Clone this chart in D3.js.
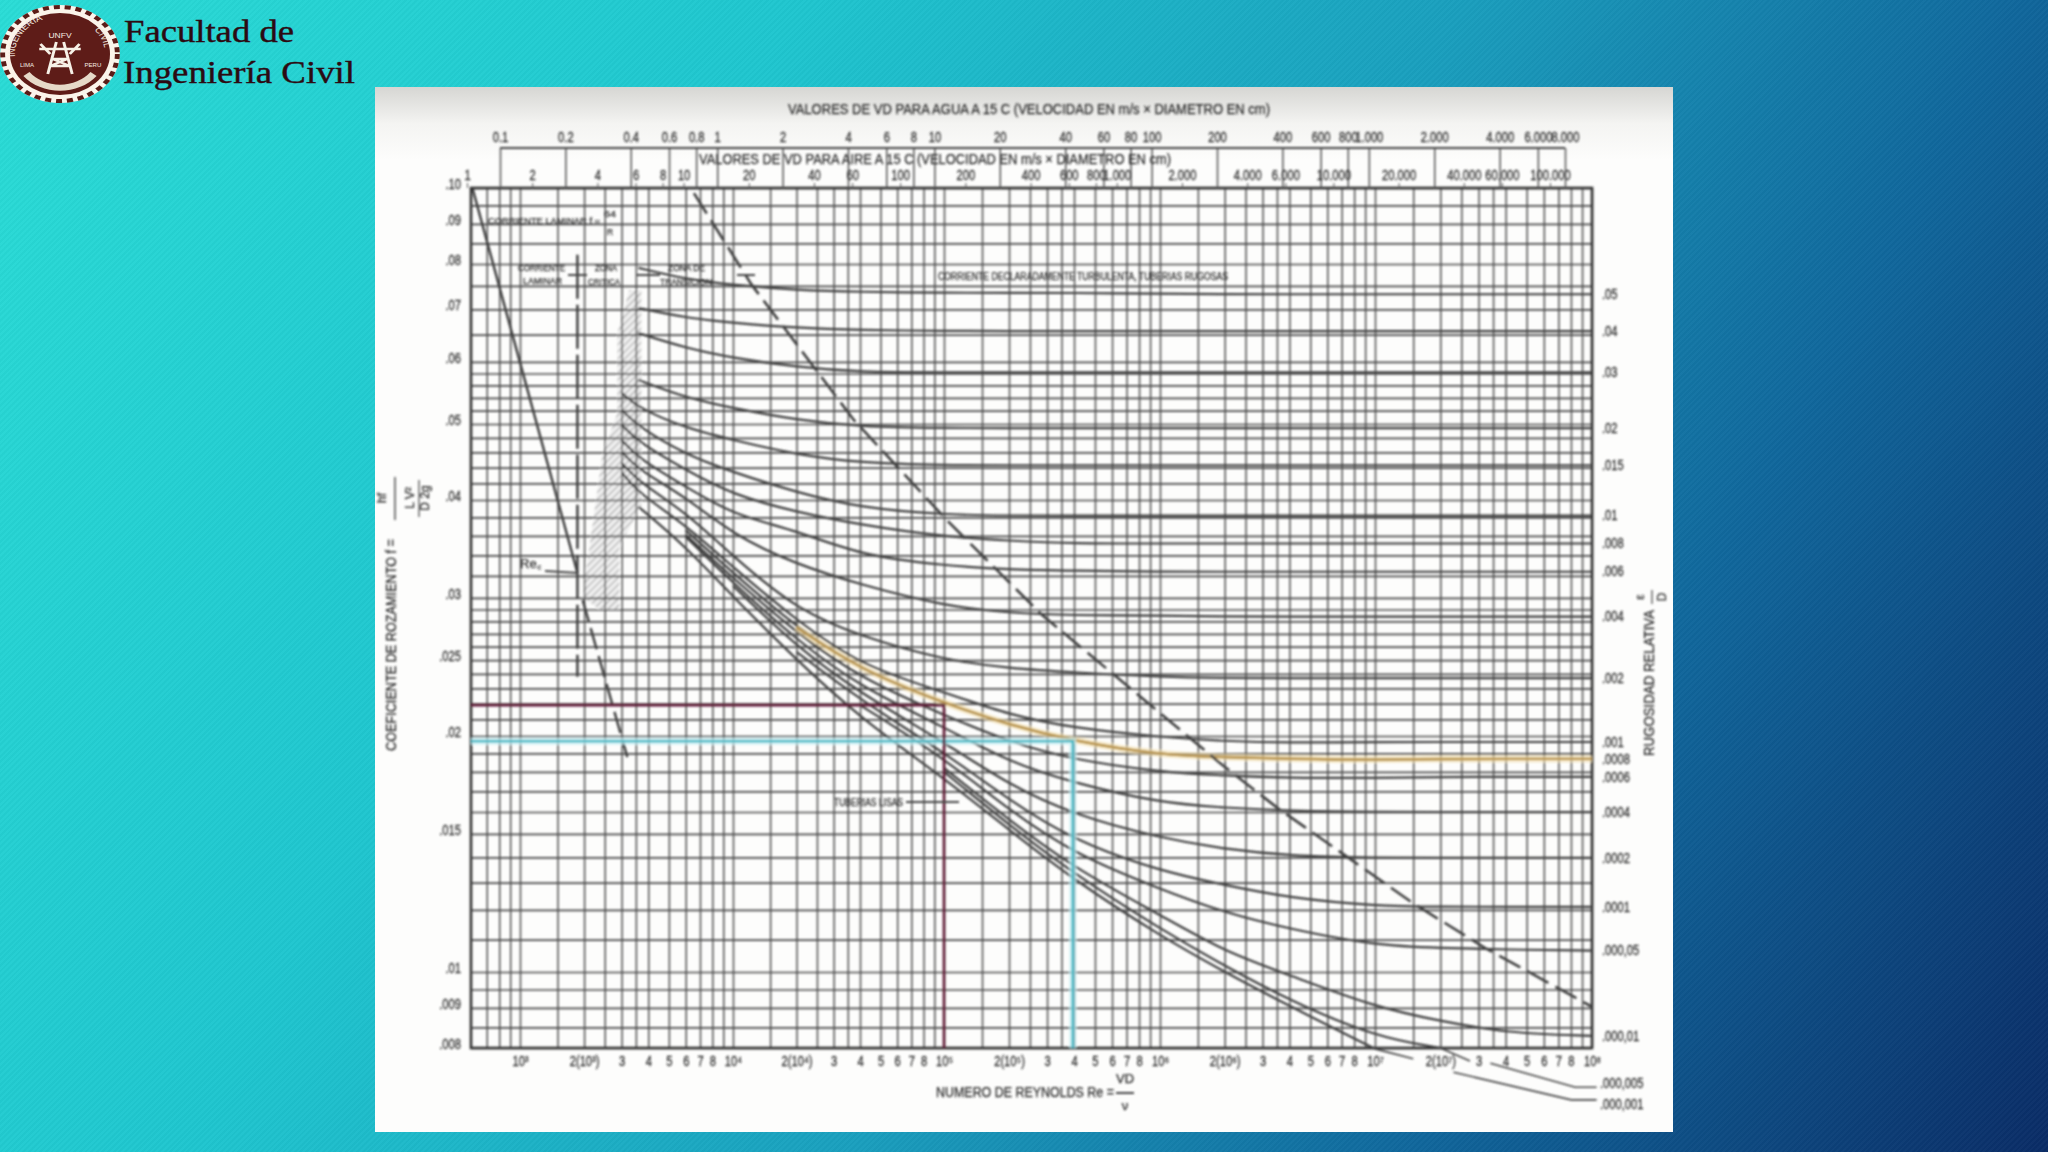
<!DOCTYPE html>
<html>
<head>
<meta charset="utf-8">
<script src="https://cdn.jsdelivr.net/npm/d3@7"></script>
<style>
  html, body { margin: 0; padding: 0; width: 2048px; height: 1152px; overflow: hidden; }
  body {
    background:
      repeating-linear-gradient(135deg, rgba(255,255,255,0.018) 0 2px, rgba(0,0,0,0.018) 2px 4px),
      linear-gradient(118deg, #2adcd6 0%, #1fc6cf 30%, #1a9fbe 55%, #10679c 76%, #0a2c66 100%);
  }
  svg { display: block; }
  text { font-family: "Liberation Sans", sans-serif; fill: #2a2a2a; stroke: #2a2a2a; stroke-width: 0.25px; }
  .axis path { display: none; }
  .axis text { font-size: 14px; fill: #2a2a2a; font-family: "Liberation Sans", sans-serif; }
</style>
</head>
<body>
<svg id="chart" width="2048" height="1152"></svg>
<script>
// ---- datos ----
const reMantissas = [1, 1.5, 2, 2.5, 3, 3.5, 4, 5, 6, 7, 8, 9];
const reDecades = [1e3, 1e4, 1e5, 1e6, 1e7];
const reLowTicks = [700, 800, 900];
const fGridValues = [
  .008, .0085, .009, .0095, .01, .011, .012, .013, .014, .015, .016, .017, .018, .019, .02,
  .021, .022, .023, .024, .025, .026, .027, .028, .029, .03, .032, .034, .036, .038, .04,
  .042, .044, .046, .048, .05, .052, .054, .056, .058, .06, .065, .07, .075, .08, .085, .09, .095, .1
];

const reTickValues = [1e3, 2e3, 3e3, 4e3, 5e3, 6e3, 7e3, 8e3, 1e4, 2e4, 3e4, 4e4, 5e4, 6e4, 7e4, 8e4,
  1e5, 2e5, 3e5, 4e5, 5e5, 6e5, 7e5, 8e5, 1e6, 2e6, 3e6, 4e6, 5e6, 6e6, 7e6, 8e6,
  1e7, 2e7, 3e7, 4e7, 5e7, 6e7, 7e7, 8e7, 1e8];
const reTickLabels = ['10³', '2(10³)', '3', '4', '5', '6', '7', '8', '10⁴', '2(10⁴)', '3', '4', '5', '6', '7', '8',
  '10⁵', '2(10⁵)', '3', '4', '5', '6', '7', '8', '10⁶', '2(10⁶)', '3', '4', '5', '6', '7', '8',
  '10⁷', '2(10⁷)', '3', '4', '5', '6', '7', '8', '10⁸'];
const fTickValues = [.1, .09, .08, .07, .06, .05, .04, .03, .025, .02, .015, .01, .009, .008];
const fTickLabels = ['.10', '.09', '.08', '.07', '.06', '.05', '.04', '.03', '.025', '.02', '.015', '.01', '.009', '.008'];

const waterTicks = [.1, .2, .4, .6, .8, 1, 2, 4, 6, 8, 10, 20, 40, 60, 80, 100, 200, 400, 600, 800, 1000, 2000, 4000, 6000, 8000];
const airTicks = [1, 2, 4, 6, 8, 10, 20, 40, 60, 100, 200, 400, 600, 800, 1000, 2000, 4000, 6000, 10000, 20000, 40000, 60000, 100000];

// curvas f(Re) por rugosidad relativa, sobre reGrid
const reGrid = [3e3, 3.6e3, 6e3, 1e4, 2e4, 4e4, 1e5, 2e5, 4e5, 1e6, 2e6, 4e6, 1e7, 2e7, 4e7, 1e8];
const c05 = [null, .0791, .0765, .0752, .0741, .0737, .0735, .0735, .0735, .0733, .0732, .0732, .0732, .0732, .0732, .0732];
const c04 = [null, .0703, .0683, .0673, .0663, .0659, .0657, .0657, .0657, .0657, .0657, .0657, .0657, .0657, .0657, .0657];
const c03 = [null, .0653, .0625, .0607, .0591, .0582, .0582, .0582, .0582, .0582, .0582, .0582, .0582, .0582, .0582, .0582];
const c02 = [null, .0569, .0540, .0524, .0506, .0496, .0494, .0494, .0494, .0494, .0494, .0494, .0494, .0494, .0494, .0494];
const c015 = [.0548, .0524, .0494, .0477, .0457, .0446, .0443, .0443, .0443, .0443, .0443, .0443, .0443, .0443, .0443, .0443];
const c01 = [.0521, .0496, .0457, .0434, .0409, .0391, .0383, .0382, .0382, .0382, .0382, .0382, .0382, .0382, .0382, .0382];
const c008 = [.0499, .0474, .0437, .0406, .0386, .0372, .0359, .0355, .0352, .0352, .0352, .0352, .0352, .0352, .0352, .0352];
const c006 = [.0477, .0452, .0416, .0383, .0366, .0340, .0330, .0326, .0325, .0324, .0324, .0324, .0324, .0324, .0324, .0324];
const c004 = [.0461, .0437, .0404, .0361, .0331, .0312, .0293, .0287, .0285, .0285, .0284, .0284, .0284, .0284, .0284, .0284];
const c002 = [.0446, .0422, .0386, .0339, .0290, .0268, .0250, .0244, .0241, .0238, .0237, .0237, .0237, .0237, .0237, .0237];
const c001 = [.0434, .0408, .0372, .0328, .0281, .0246, .02276, .02127, .02047, .01994, .0197, .0196, .01965, .01965, .01965, .01965];
const c0008 = [null, null, .0366, .0323, .0275, .0243, .02203, .02066, .0197, .01891, .0188, .0187, .01864, .0187, .0187, .0187];
const c0006 = [null, null, .0361, .0318, .02707, .0237, .02127, .01965, .01864, .0180, .0178, .01768, .01768, .01774, .01774, .01774];
const c0004 = [null, null, .0359, .03135, .02652, .0231, .02054, .01853, .01742, .01643, .0162, .01605, .016, .016, .016, .016];
const c0002 = [null, null, null, .0311, .02598, .02269, .01965, .01732, .01586, .01482, .01435, .01406, .01398, .01398, .01398, .01398];
const c0001 = [null, null, null, null, .0256, .02223, .01908, .01657, .0147, .01345, .01291, .01243, .01214, .01211, .01211, .01211];
const c00005 = [null, null, null, null, null, .0219, .01875, .01609, .01414, .01276, .0119, .01135, .01081, .01073, .01068, .01065];
const c00001 = [null, null, null, null, null, null, .01821, .01563, .01357, .01183, .01061, .00991, .00902, .00866, .00836, .00829];
const c000005 = [null, null, null, null, null, null, .018, .0154, .01334, .01135, .01018, .0092, .00826, .008, null, null];
const c000001 = [null, .0392, .0349, .0301, .025, .02109, .01768, .01518, .0131, .01112, .01, .00905, .00798, null, null, null];

const allCurves = [c05, c04, c03, c02, c015, c01, c008, c006, c004, c002, c001, c0008, c0006, c0004, c0002, c0001, c00005, c00001, c000005, c000001];
const roughLabels = ['.05', '.04', '.03', '.02', '.015', '.01', '.008', '.006', '.004', '.002', '.001', '.0008', '.0006', '.0004', '.0002', '.0001', '.000,05', '.000,01'];
const roughSmall = ['.000,005', '.000,001'];
const roughSmallF = [.0072, .00677];

// flujo laminar, zona critica y limite de turbulencia
const laminarRe = [600, 1860];
const laminarF = [.1, .0323];
const laminarDashRe = [1970, 3190];
const laminarDashF = [.0298, .0188];
const criticalRe = [1860, 1860];
const criticalF = [.0822, .0238];
const limitRe = [6555, 12200, 37380, 1.05e5, 2.82e5, 1.95e6, 3.48e6, 7.8e6, 1.49e7, 3.22e7, 1e8];
const limitF = [.0985, .0754, .0506, .0375, .0286, .01837, .01623, .01389, .01225, .01073, .00903];
const hatchRe = [3260, 3710, 3710, 2930, 2930, 2360, 1970, 2440, 2870, 2870];
const hatchF = [.0741, .0741, .0394, .0348, .029, .029, .0301, .0459, .0516, .0653];

// lineas de lectura (ejemplo resuelto)
const purpleRe = 1e5, purpleF = .0219;
const blueRe = 3.95e5, blueF = .0197;

// lineas guia de las dos ultimas etiquetas
const leader5a = [[2e7, .008], [2.74e7, .0077]];
const leader5b = [[3.4e7, .00765], [8.37e7, .00713], [1.05e8, .00713]];
const leader1a = [[1e7, .00798], [1.5e7, .00775]];
const leader1b = [[2.3e7, .00745], [8.02e7, .00687], [1.05e8, .00687]];

// ---- escalas ----
// la figura esta algo deformada: cada decada tiene su propio ancho
const x = d3.scaleLog().domain([591, 1e3, 1e4, 1e5, 1e6, 1e7, 1e8]).range([471, 520, 733, 944, 1160, 1375, 1592]);
const y = d3.scaleLog().domain([.1, .008]).range([188, 1048]);
const waterX = d3.scaleLog().domain([.1, 8000]).range([500, 1565]);
const airX = d3.scaleLog().domain([1, 100000]).range([467, 1550]);

const svg = d3.select('#chart');
const defs = svg.append('defs');

const cardFade = defs.append('linearGradient').attr('id', 'cardFade').attr('x1', 0).attr('x2', 0).attr('y1', 0).attr('y2', 1);
cardFade.append('stop').attr('offset', '0').attr('stop-color', '#d6d6d3');
cardFade.append('stop').attr('offset', '0.035').attr('stop-color', '#f4f4f2');
cardFade.append('stop').attr('offset', '0.07').attr('stop-color', '#fdfdfc');

defs.append('filter').attr('id', 'soft')
  .attr('filterUnits', 'userSpaceOnUse').attr('x', 375).attr('y', 87).attr('width', 1298).attr('height', 1045)
  .append('feGaussianBlur').attr('stdDeviation', 0.8);

const hatch = defs.append('pattern').attr('id', 'hatch').attr('width', 5).attr('height', 5)
  .attr('patternUnits', 'userSpaceOnUse').attr('patternTransform', 'rotate(45)');
hatch.append('rect').attr('width', 5).attr('height', 5).attr('fill', '#efefef');
hatch.append('line').attr('x1', 0).attr('x2', 0).attr('y1', 0).attr('y2', 5).attr('stroke', '#8f8f8f').attr('stroke-width', 1.6);

// ---- tarjeta y encabezado ----
svg.append('rect').attr('x', 375).attr('y', 87).attr('width', 1298).attr('height', 1045).attr('fill', 'url(#cardFade)');
drawLogo();
svg.append('text').attr('x', 124).attr('y', 42).attr('textLength', 170).attr('lengthAdjust', 'spacingAndGlyphs')
  .style('font-family', '"Liberation Serif", serif').style('font-size', '31px').style('fill', '#2c0a12')
  .style('stroke', '#2c0a12').style('stroke-width', 0.4).text('Facultad de');
svg.append('text').attr('x', 123).attr('y', 83).attr('textLength', 232).attr('lengthAdjust', 'spacingAndGlyphs')
  .style('font-family', '"Liberation Serif", serif').style('font-size', '31px').style('fill', '#2c0a12')
  .style('stroke', '#2c0a12').style('stroke-width', 0.4).text('Ingeniería Civil');

const chart = svg.append('g').attr('filter', 'url(#soft)');

// ---- zona rayada (debajo de la rejilla) ----
chart.append('path')
  .datum(d3.zip(hatchRe, hatchF))
  .attr('d', d3.line().x(d => x(d[0])).y(d => y(d[1])).curve(d3.curveLinearClosed))
  .attr('fill', 'url(#hatch)');

// ---- rejilla ----
const reGridValues = reLowTicks.concat(...reDecades.map(d => reMantissas.map(m => m * d))).concat([1e8]);
chart.append('g').attr('class', 'axis grid-x').attr('transform', 'translate(0,1048)')
  .call(d3.axisBottom(x).tickValues(reGridValues).tickSize(-860).tickFormat(''))
  .selectAll('line').attr('stroke', '#4f4f4f').attr('stroke-width', 1.5);
chart.append('g').attr('class', 'axis grid-y').attr('transform', 'translate(471,0)')
  .call(d3.axisLeft(y).tickValues(fGridValues).tickSize(-1121).tickFormat(''))
  .selectAll('line').attr('stroke', '#4a4a4a').attr('stroke-width', 1.7);

// ---- marco ----
chart.append('rect').attr('x', 471).attr('y', 188).attr('width', 1121).attr('height', 860)
  .attr('fill', 'none').attr('stroke', '#333').attr('stroke-width', 2.6);

// ---- ejes con etiquetas (condensadas como en el original) ----
const condense = sel => sel.selectAll('text').attr('transform', 'scale(.8,1)').attr('x', function () { return +d3.select(this).attr('x') / .8; });

chart.append('g').attr('class', 'axis').attr('transform', 'translate(0,1048)')
  .call(d3.axisBottom(x).tickValues(reTickValues).tickSize(0).tickPadding(8)
    .tickFormat((d, i) => reTickLabels[i]))
  .call(condense);

chart.append('g').attr('class', 'axis').attr('transform', 'translate(461,-4)')
  .call(d3.axisLeft(y).tickValues(fTickValues).tickSize(0).tickPadding(0).tickFormat((d, i) => fTickLabels[i]))
  .call(condense);

const thousands = v => String(v).replace(/\B(?=(\d{3})+$)/g, '.');
chart.append('g').attr('class', 'axis').attr('transform', 'translate(0,148)')
  .call(d3.axisTop(waterX).tickValues(waterTicks).tickSize(-40).tickPadding(6).tickFormat(thousands))
  .call(condense)
  .selectAll('line').attr('stroke', '#555').attr('stroke-width', 1.5);
chart.append('line').attr('x1', 500).attr('x2', 1565).attr('y1', 148).attr('y2', 148).attr('stroke', '#444').attr('stroke-width', 2);
chart.append('g').attr('class', 'axis').attr('transform', 'translate(0,188)')
  .call(d3.axisTop(airX).tickValues(airTicks).tickSize(5).tickPadding(3).tickFormat(thousands))
  .call(condense)
  .selectAll('line').attr('stroke', '#555');

// ---- curvas ----
const curveLine = d3.line().x(d => x(d[0])).y(d => y(d[1])).curve(d3.curveBasis);
const linear = d3.line().x(d => x(d[0])).y(d => y(d[1]));
const toPoints = arr => arr.map((f, i) => [reGrid[i], f]).filter(d => d[1] != null);

chart.append('g').selectAll('path').data(allCurves).join('path')
  .attr('d', d => curveLine(toPoints(d)))
  .attr('fill', 'none').attr('stroke', '#3c3c3c').attr('stroke-width', 2.2);

// tramo resaltado de la curva .0008
const goldPts = toPoints(c0008).slice(2);
chart.append('path').attr('d', curveLine(goldPts)).attr('fill', 'none').attr('stroke', '#f3dfae').attr('stroke-width', 7).attr('opacity', 0.6);
chart.append('path').attr('d', curveLine(goldPts)).attr('fill', 'none').attr('stroke', '#b8934a').attr('stroke-width', 2.4);

// laminar, critica y limite
chart.append('path').attr('d', linear(d3.zip(laminarRe, laminarF))).attr('fill', 'none').attr('stroke', '#3a3a3a').attr('stroke-width', 2.4);
chart.append('path').attr('d', linear(d3.zip(laminarDashRe, laminarDashF))).attr('fill', 'none').attr('stroke', '#3a3a3a').attr('stroke-width', 2.4).attr('stroke-dasharray', '22 7');
chart.append('path').attr('d', linear(d3.zip(criticalRe, criticalF))).attr('fill', 'none').attr('stroke', '#3a3a3a').attr('stroke-width', 2.4).attr('stroke-dasharray', '44 6');
chart.append('path').attr('d', linear(d3.zip(limitRe, limitF))).attr('fill', 'none').attr('stroke', '#3f3f3f').attr('stroke-width', 2.6).attr('stroke-dasharray', '24 8');

// lineas guia
[leader5a, leader5b, leader1a, leader1b].forEach(seg => {
  chart.append('path').attr('d', linear(seg)).attr('fill', 'none').attr('stroke', '#444').attr('stroke-width', 1.6);
});

// ---- lineas de lectura ----
const readLine = [[591, purpleF], [purpleRe, purpleF], [purpleRe, .008]];
const blueLine = [[591, blueF], [blueRe, blueF], [blueRe, .008]];
chart.append('path').attr('d', linear(blueLine)).attr('fill', 'none').attr('stroke', '#c4eef3').attr('stroke-width', 7).attr('opacity', 0.7);
chart.append('path').attr('d', linear(blueLine)).attr('fill', 'none').attr('stroke', '#35b4c0').attr('stroke-width', 2.4);
chart.append('path').attr('d', linear(readLine)).attr('fill', 'none').attr('stroke', '#5e1836').attr('stroke-width', 2.6);

// ---- etiquetas de rugosidad ----
chart.append('g').selectAll('text').data(roughLabels).join('text')
  .attr('transform', (d, i) => `translate(1602,${y(allCurves[i][15]) + 1}) scale(.8,1)`)
  .attr('dominant-baseline', 'middle').style('font-size', '14px').text(d => d);
chart.append('g').selectAll('text').data(roughSmall).join('text')
  .attr('transform', (d, i) => `translate(1600,${y(roughSmallF[i])}) scale(.8,1)`)
  .attr('dominant-baseline', 'middle').style('font-size', '14px').text(d => d);

// ---- textos ----
function label(str, px, py, len, size, anchor) {
  const t = chart.append('text').attr('x', px).attr('y', py).attr('dominant-baseline', 'middle')
    .style('font-size', (size || 13) + 'px').attr('text-anchor', anchor || 'start').text(str);
  if (len) t.attr('textLength', len).attr('lengthAdjust', 'spacingAndGlyphs');
  return t;
}
label('VALORES DE VD PARA AGUA A 15 C (VELOCIDAD EN m/s × DIAMETRO EN cm)', 788, 110, 482, 15);
label('VALORES DE VD PARA AIRE A 15 C (VELOCIDAD EN m/s × DIAMETRO EN cm)', 699, 160, 472, 15);

label('CORRIENTE LAMINAR f =', 488, 222, 112, 9);
label('64', 604, 215, 12, 9);
label('R', 607, 233, 6, 9);
label('CORRIENTE', 518, 269, 47, 9);
label('LAMINAR', 523, 282, 39, 9);
label('ZONA', 595, 269, 22, 9);
label('CRITICA', 588, 283, 32, 9);
label('ZONA DE', 668, 269, 37, 9);
label('TRANSICION', 660, 283, 52, 9);
label('CORRIENTE DECLARADAMENTE TURBULENTA, TUBERIAS RUGOSAS', 938, 277, 290, 10);
label('TUBERIAS LISAS', 834, 803, 69, 10);
label('Re꜀', 520, 565, null, 13);

const arrow = (x1, y1, x2, y2) => chart.append('line').attr('x1', x1).attr('y1', y1).attr('x2', x2).attr('y2', y2)
  .attr('stroke', '#444').attr('stroke-width', 2);
arrow(568, 275, 587, 275);
arrow(637, 275, 660, 275);
arrow(737, 275, 755, 275);
arrow(906, 802, 959, 802);
arrow(545, 571, 578, 573);

label('NUMERO DE REYNOLDS Re =', 936, 1093, 178, 15);
label('VD', 1125, 1080, null, 13, 'middle');
arrow(1116, 1093, 1134, 1093);
label('ν', 1125, 1107, null, 13, 'middle');

// titulos girados
function rotated(str, px, py, size, anchor, len) {
  const t = chart.append('text').attr('transform', `translate(${px},${py}) rotate(-90)`)
    .attr('dominant-baseline', 'middle').attr('text-anchor', anchor || 'middle')
    .style('font-size', size + 'px').text(str);
  if (len) t.attr('textLength', len).attr('lengthAdjust', 'spacingAndGlyphs');
}
rotated('COEFICIENTE DE ROZAMIENTO f =', 392, 645, 15, 'middle', 212);
rotated('hf', 383, 498, 12);
rotated('L  V²', 411, 498, 12);
rotated('D  2g', 426, 498, 12);
chart.append('line').attr('x1', 395).attr('x2', 395).attr('y1', 477).attr('y2', 520).attr('stroke', '#444').attr('stroke-width', 1.4);
chart.append('line').attr('x1', 419).attr('x2', 419).attr('y1', 480).attr('y2', 517).attr('stroke', '#444').attr('stroke-width', 1.2);

rotated('RUGOSIDAD RELATIVA', 1650, 683, 15, 'middle', 146);
rotated('ε', 1641, 597, 12);
rotated('D', 1663, 597, 12);
chart.append('line').attr('x1', 1652).attr('x2', 1652).attr('y1', 590).attr('y2', 604).attr('stroke', '#444').attr('stroke-width', 1.2);

// ---- logo ----
function drawLogo() {
  const g = svg.append('g').attr('transform', 'translate(60,54) scale(1.22,1)');
  const logoText = sel => sel.style('fill', '#f5ece0').style('stroke', 'none').style('font-family', '"Liberation Sans", sans-serif');
  g.append('circle').attr('r', 49).attr('fill', '#fbf4ea');
  g.append('circle').attr('r', 47).attr('fill', 'none').attr('stroke', '#5a1c17').attr('stroke-width', 4).attr('stroke-dasharray', '5 4');
  g.append('circle').attr('r', 41).attr('fill', '#5e1c18');
  g.append('path').attr('d', 'M-30,22 A38,38 0 0 0 30,22 L25,18 A31,31 0 0 1 -25,18 Z').attr('fill', '#e6d9c8');
  g.append('path').attr('id', 'logoArcL').attr('d', 'M-36,8 A37,37 0 0 1 -9,-36').attr('fill', 'none');
  g.append('path').attr('id', 'logoArcR').attr('d', 'M17,-33 A37,37 0 0 1 36,8').attr('fill', 'none');
  g.append('text').append('textPath').attr('href', '#logoArcL').attr('startOffset', '50%').attr('text-anchor', 'middle')
    .style('font-size', '8px').call(logoText).text('INGENIERIA');
  g.append('text').append('textPath').attr('href', '#logoArcR').attr('startOffset', '50%').attr('text-anchor', 'middle')
    .style('font-size', '8px').call(logoText).text('CIVIL');
  g.append('text').attr('y', -16).attr('text-anchor', 'middle').style('font-size', '7px').call(logoText).text('UNFV');
  g.append('text').attr('x', -27).attr('y', 13).attr('text-anchor', 'middle').style('font-size', '5px').call(logoText).text('LIMA');
  g.append('text').attr('x', 27).attr('y', 13).attr('text-anchor', 'middle').style('font-size', '5px').call(logoText).text('PERU');
  const tower = 'M-3,-12 L-10,20 M3,-12 L10,20 M-17,-5 L17,-5 M-6,5 L6,5 M-8,12 L8,12 M-8,12 L6,5 M8,12 L-6,5 M-16,-10 L-8,0 M16,-10 L8,0';
  g.append('path').attr('d', tower).attr('fill', 'none').attr('stroke', '#f7f1e7').attr('stroke-width', 2.4);
}
</script>
</body>
</html>
